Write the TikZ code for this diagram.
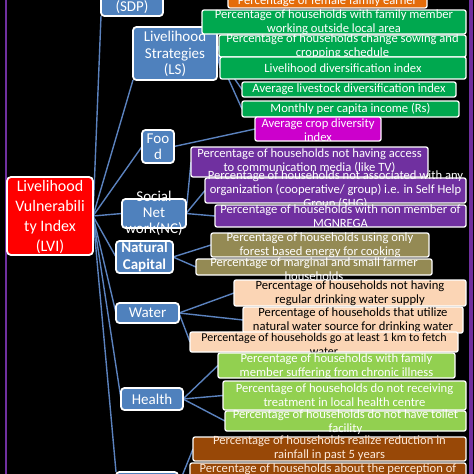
\documentclass[tikz,border=0pt]{standalone}
\usepackage{fontspec}
\setmainfont{Carlito}
\definecolor{catblue}{HTML}{4F81BD}
\definecolor{lvired}{HTML}{FF0000}
\definecolor{orng}{HTML}{E46C0A}
\definecolor{grn}{HTML}{00A84F}
\definecolor{mag}{HTML}{CC00CC}
\definecolor{purp}{HTML}{7030A0}
\definecolor{oliv}{HTML}{948A54}
\definecolor{peach}{HTML}{FBD5B5}
\definecolor{lgrn}{HTML}{92D050}
\definecolor{brwn}{HTML}{984807}
\definecolor{linkc}{HTML}{5B82BE}
\definecolor{brtxt}{HTML}{FDE9D9}
\pgfdeclarelayer{bg}
\pgfdeclarelayer{links}
\pgfsetlayers{bg,links,main}
\tikzset{
 link/.style={draw=linkc, line width=1.4pt},
 boxbase/.style={draw=white, line width=1.3pt, rounded corners=2pt, inner sep=0pt, outer sep=0pt},
 catbox/.style={boxbase, fill=catblue, line width=1.8pt, rounded corners=3.5pt},
 itxt/.style={inner sep=0pt, align=center, text=white, font=\fontsize{12.6}{14}\selectfont},
 ctxt/.style={inner sep=0pt, align=center, text=white, font=\fontsize{15}{16.3}\selectfont},
 ltxt/.style={inner sep=0pt, align=center, text=white, font=\fontsize{16}{20}\selectfont},
}
\newcommand\mkbox[9]{%
 \node[#6, minimum width={(#4-#2)*1pt}, minimum height={(#5-#3)*1pt}] (#1) at ({(#2+#4)/2},{(#3+#5)/2}) {};%
 \node[#7] (#1t) at ({(#2+#4)/2},#8) {#9};%
}
\begin{document}
\begin{tikzpicture}[x=1pt,y=-1pt]
\useasboundingbox (0,0) rectangle (474,474);
\clip (0,0) rectangle (474,474);
\begin{pgfonlayer}{bg}
\fill[black] (0,0) rectangle (474,474);
\draw[purp, line width=2pt] (5.8,-5) -- (5.8,480);
\draw[purp, line width=3.2pt] (471,-5) -- (471,480);
\end{pgfonlayer}
% categories
\mkbox{lvi}{7}{177}{93}{255}{boxbase, fill=lvired, line width=1.8pt, rounded corners=4pt}{ltxt}{217}{Livelihood\\Vulnerabili\\ty Index\\(LVI)}
\mkbox{sdp}{101}{-30}{163}{16}{catbox}{ctxt}{7}{(SDP)}
\mkbox{ls}{133}{27}{217}{80}{catbox}{ctxt}{54}{Livelihood\\Strategies\\(LS)}
\mkbox{food}{142}{130}{174}{163}{catbox}{ctxt}{146.5}{Foo\\d}
\mkbox{soc}{122}{199}{186}{228}{catbox}{ctxt}{213.5}{Social\\Net\\work(NC)}
\mkbox{nat}{116}{241}{173}{273}{catbox}{ctxt, font=\fontsize{15}{16.3}\selectfont\bfseries}{257}{Natural\\Capital}
\mkbox{wat}{116}{303}{179}{323}{catbox}{ctxt}{313}{Water}
\mkbox{hea}{121}{388}{183}{410}{catbox}{ctxt}{399}{Health}
\mkbox{bot}{116}{472}{178}{500}{catbox}{ctxt}{486}{}
% items
\mkbox{or1}{228}{-10}{427}{8}{boxbase, fill=orng}{itxt}{1.5}{Percentage of female family earner}
\mkbox{g2}{219}{35}{466}{57}{boxbase, fill=grn}{itxt}{46.5}{Percentage of households change sowing and\\cropping schedule}
\mkbox{g1}{202}{10}{466}{34}{boxbase, fill=grn}{itxt}{22.5}{Percentage of households with family member\\working outside local area}
\mkbox{g3}{220}{57}{466}{79}{boxbase, fill=grn}{itxt}{68.5}{Livelihood diversification index}
\mkbox{g4}{242}{82}{456}{97}{boxbase, fill=grn}{itxt}{89.5}{Average livestock diversification index}
\mkbox{g5}{242}{101}{459}{117}{boxbase, fill=grn}{itxt}{109}{Monthly per capita income (Rs)}
\mkbox{m1}{255}{117}{381}{141}{boxbase, fill=mag}{itxt}{130}{Average crop diversity\\index}
\mkbox{p1}{191}{147}{428}{177}{boxbase, fill=purp}{itxt}{161}{Percentage of households not having access\\to communication media (like TV)}
\mkbox{p2}{205}{178}{466}{203}{boxbase, fill=purp}{itxt}{190}{Percentage of households not associated with any\\organization (cooperative/ group) i.e. in Self Help\\Group (SHG)}
\mkbox{p3}{215}{205}{466}{227}{boxbase, fill=purp}{itxt}{216}{Percentage of households with non member of\\MGNREGA}
\mkbox{o1}{211}{233}{429}{257}{boxbase, fill=oliv}{itxt}{245}{Percentage of households using only\\forest based energy for cooking}
\mkbox{o2}{196}{259}{432}{275}{boxbase, fill=oliv}{itxt}{269}{Percentage of marginal and small farmer\\households}
\mkbox{w1}{234}{280}{466}{306}{boxbase, fill=peach}{itxt, text=black}{293}{Percentage of households not having\\regular drinking water supply}
\mkbox{w2}{243}{307}{463}{333}{boxbase, fill=peach}{itxt, text=black}{320}{Percentage of households that utilize\\natural water source for drinking water}
\mkbox{w3}{190}{332}{458}{352}{boxbase, fill=peach}{itxt, text=black, font=\fontsize{12}{14}\selectfont}{344}{Percentage of households go at least 1 km to fetch\\water}
\mkbox{h1}{218}{353}{455}{378}{boxbase, fill=lgrn}{itxt}{366}{Percentage of households with family\\member suffering from chronic illness}
\mkbox{h2}{223}{381}{466}{410}{boxbase, fill=lgrn}{itxt}{395}{Percentage of households do not receiving\\treatment in local health centre}
\mkbox{h3}{225}{411}{466}{431}{boxbase, fill=lgrn}{itxt}{422}{Percentage of households do not have toilet\\facility}
\mkbox{b1}{193}{437}{466}{461}{boxbase, fill=brwn}{itxt, text=brtxt}{448.5}{Percentage of households realize reduction in\\rainfall in past 5 years}
\mkbox{b2}{190}{463}{466}{490}{boxbase, fill=brwn}{itxt, text=brtxt}{469.5}{Percentage of households about the perception of}
% connectors
\begin{pgfonlayer}{links}
\foreach \t in {sdp.south west, ls.south west, food.west, soc.west, nat.west, wat.west, hea.west, bot.north west}
  \draw[link] (lvi.east) -- (\t);
\foreach \t in {g1, g2, g3, g4, g5} \draw[link] (ls.east) -- (\t.west);
\draw[link] (food.east) -- (m1.west);
\foreach \t in {p1, p2, p3} \draw[link] (soc.east) -- (\t.west);
\foreach \t in {o1, o2} \draw[link] (nat.east) -- (\t.west);
\foreach \t in {w1, w2, w3} \draw[link] (wat.east) -- (\t.west);
\foreach \t in {h1, h2, h3} \draw[link] (hea.east) -- (\t.west);
\foreach \t in {b1, b2} \draw[link] (bot.east) -- (\t.west);
\end{pgfonlayer}
\end{tikzpicture}
\end{document}
